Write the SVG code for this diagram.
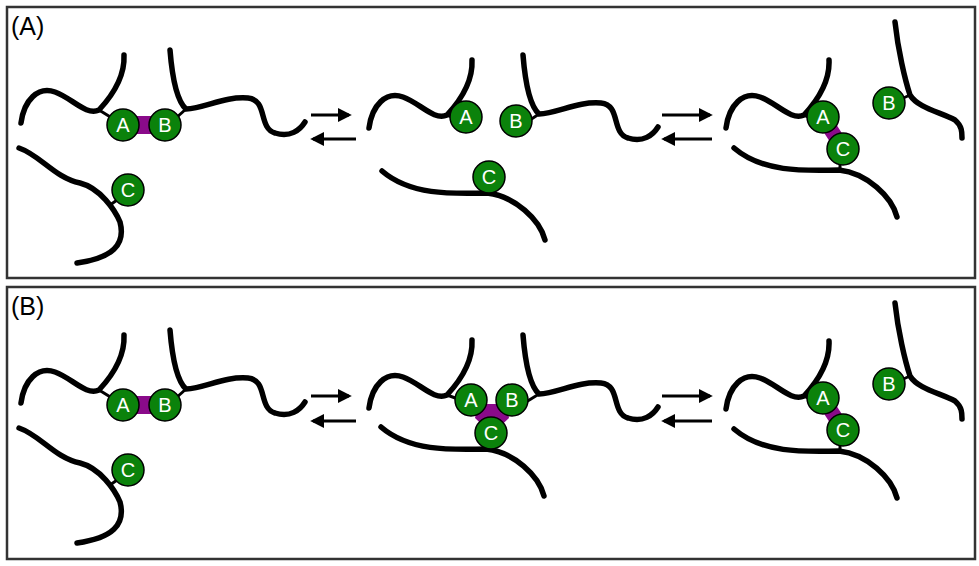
<svg xmlns="http://www.w3.org/2000/svg" width="979" height="566" viewBox="0 0 979 566">
<style>
.frame{fill:#fff;stroke:#333;stroke-width:2.5}
.ch{fill:none;stroke:#000;stroke-width:5.5;stroke-linecap:round}
.st{fill:none;stroke:#000;stroke-width:3}
.bd{fill:#0b820b;stroke:#000;stroke-width:1.5}
.lb{font-family:"Liberation Sans",Arial,sans-serif;font-size:20px;fill:#fff;text-anchor:middle}
.pl{font-family:"Liberation Sans",Arial,sans-serif;font-size:25px;fill:#000}
.pu{fill:#8a0a8a}
.ar{stroke:#000;stroke-width:3}
</style>
<defs>
<marker id="ah" viewBox="0 0 10 10" refX="8" refY="5" markerWidth="14" markerHeight="14" orient="auto" markerUnits="userSpaceOnUse"><path d="M0,0L10,5L0,10z" fill="#000"/></marker>
<g id="c1"><path class="ch" d="M21,123 C24,100 38,86 55,92 C72,98 86,116 99,110 C112,96 125,76 124,55"/></g>
<g id="c2"><path class="ch" d="M170,50 C172,75 176,100 186,109 C205,108 225,96 248,98 C268,100 258,128 275,133 C290,138 300,130 305,122"/></g>
<g id="c3"><path class="ch" d="M19,148 C40,155 55,178 80,183 C100,188 115,210 120,222 C126,245 112,258 77,263"/></g>
<g id="c3m"><path class="ch" d="M382,171 C410,195 450,194 487,193 C515,196 540,220 545,240"/></g>
<g id="cB"><path class="ch" d="M895,22 C898,50 905,80 910,95 C918,108 940,112 955,120 C962,126 962,132 962,138"/></g>
</defs>
<rect class="frame" x="7" y="7" width="968" height="271"/>
<rect class="frame" x="7" y="287" width="968" height="272"/>
<text class="pl" x="11" y="35">(A)</text>
<text class="pl" x="11" y="315">(B)</text>
<g id="arrows">
<line class="ar" x1="311" y1="115" x2="349" y2="115" marker-end="url(#ah)"/>
<line class="ar" x1="356" y1="139" x2="313" y2="139" marker-end="url(#ah)"/>
<line class="ar" x1="662" y1="115" x2="710" y2="115" marker-end="url(#ah)"/>
<line class="ar" x1="712" y1="139" x2="664" y2="139" marker-end="url(#ah)"/>
<line class="ar" x1="311" y1="396" x2="349" y2="396" marker-end="url(#ah)"/>
<line class="ar" x1="356" y1="421" x2="313" y2="421" marker-end="url(#ah)"/>
<line class="ar" x1="662" y1="396" x2="710" y2="396" marker-end="url(#ah)"/>
<line class="ar" x1="712" y1="421" x2="664" y2="421" marker-end="url(#ah)"/>
</g>
<g id="A-left">
<use href="#c1"/><use href="#c2"/><use href="#c3"/>
<line class="st" x1="99" y1="110" x2="112" y2="118"/>
<line class="st" x1="186" y1="109" x2="176" y2="118"/>
<line class="st" x1="110" y1="205" x2="120" y2="198"/>
<rect class="pu" x="136" y="116" width="16" height="18"/>
<circle class="bd" cx="123" cy="125" r="16"/><text class="lb" x="123" y="132">A</text>
<circle class="bd" cx="165" cy="125" r="16"/><text class="lb" x="165" y="132">B</text>
<circle class="bd" cx="128" cy="190" r="16"/><text class="lb" x="128" y="197">C</text>
</g>
<g id="A-mid">
<use href="#c1" transform="translate(348,5)"/><use href="#c2" transform="translate(353,5)"/><use href="#c3m"/>
<line class="st" x1="447" y1="115" x2="455" y2="118"/>
<line class="st" x1="539" y1="114" x2="530" y2="120"/>
<line class="st" x1="487" y1="193" x2="487" y2="185"/>
<circle class="bd" cx="466" cy="117" r="16"/><text class="lb" x="466" y="124">A</text>
<circle class="bd" cx="516" cy="121" r="16"/><text class="lb" x="516" y="128">B</text>
<circle class="bd" cx="489" cy="177" r="16"/><text class="lb" x="489" y="184">C</text>
</g>
<g id="A-right">
<use href="#c1" transform="translate(705,5)"/><use href="#c3m" transform="translate(352,-23)"/><use href="#cB"/>
<line class="st" x1="804" y1="115" x2="812" y2="119"/>
<line class="st" x1="840" y1="170" x2="840" y2="160"/>
<line class="st" x1="910" y1="95" x2="899" y2="100"/>
<path class="pu" d="M819,125 L834,121 L847,141 L832,145z"/>
<circle class="bd" cx="823" cy="117" r="16"/><text class="lb" x="823" y="124">A</text>
<circle class="bd" cx="843" cy="149" r="16"/><text class="lb" x="843" y="156">C</text>
<circle class="bd" cx="889" cy="103" r="16"/><text class="lb" x="889" y="110">B</text>
</g>
<g id="B-left" transform="translate(0,280)">
<use href="#c1"/><use href="#c2"/><use href="#c3"/>
<line class="st" x1="99" y1="110" x2="112" y2="118"/>
<line class="st" x1="186" y1="109" x2="176" y2="118"/>
<line class="st" x1="110" y1="205" x2="120" y2="198"/>
<rect class="pu" x="136" y="116" width="16" height="18"/>
<circle class="bd" cx="123" cy="125" r="16"/><text class="lb" x="123" y="132">A</text>
<circle class="bd" cx="165" cy="125" r="16"/><text class="lb" x="165" y="132">B</text>
<circle class="bd" cx="128" cy="190" r="16"/><text class="lb" x="128" y="197">C</text>
</g>
<g id="B-mid">
<use href="#c1" transform="translate(348,285)"/><use href="#c2" transform="translate(353,285)"/><use href="#c3m" transform="translate(-1,256)"/>
<line class="st" x1="447" y1="395" x2="458" y2="399"/>
<line class="st" x1="539" y1="394" x2="526" y2="402"/>
<line class="st" x1="487" y1="449" x2="487" y2="440"/>
<path class="pu" d="M478,404 L506,404 L509,418 L492,434 L475,418z"/>
<circle class="bd" cx="471" cy="400" r="16"/><text class="lb" x="471" y="407">A</text>
<circle class="bd" cx="512" cy="400" r="16"/><text class="lb" x="512" y="407">B</text>
<circle class="bd" cx="491" cy="433" r="16"/><text class="lb" x="491" y="440">C</text>
</g>
<g id="B-right" transform="translate(0,281)">
<use href="#c1" transform="translate(705,5)"/><use href="#c3m" transform="translate(352,-23)"/><use href="#cB"/>
<line class="st" x1="804" y1="115" x2="812" y2="119"/>
<line class="st" x1="840" y1="170" x2="840" y2="160"/>
<line class="st" x1="910" y1="95" x2="899" y2="100"/>
<path class="pu" d="M819,125 L834,121 L847,141 L832,145z"/>
<circle class="bd" cx="823" cy="117" r="16"/><text class="lb" x="823" y="124">A</text>
<circle class="bd" cx="843" cy="149" r="16"/><text class="lb" x="843" y="156">C</text>
<circle class="bd" cx="889" cy="103" r="16"/><text class="lb" x="889" y="110">B</text>
</g>
</svg>
